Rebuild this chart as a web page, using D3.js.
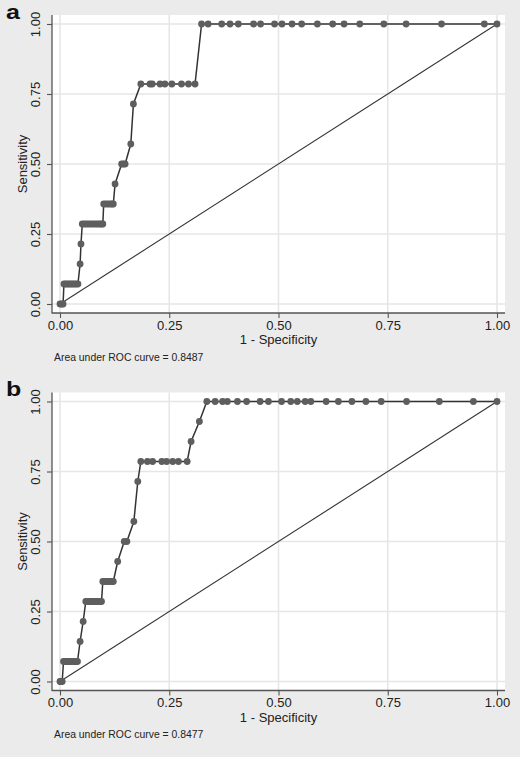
<!DOCTYPE html>
<html>
<head>
<meta charset="utf-8">
<script src="https://cdn.jsdelivr.net/npm/d3@7"></script>
<style>
  html, body { margin: 0; padding: 0; background: #ebebeb; }
  svg { display: block; font-family: "Liberation Sans", Arial, sans-serif; }
</style>
</head>
<body>
<svg id="chart" width="520" height="757"></svg>
<script>
// ---- data ----
const xTicks = [0, 0.25, 0.5, 0.75, 1];
const yTicks = [0, 0.25, 0.5, 0.75, 1];
const panelLabels = ["a", "b"];
const aucLabels = ["Area under ROC curve = 0.8487", "Area under ROC curve = 0.8477"];

// Panel a: 1 - specificity and sensitivity
const fprA = [0, 0.004, 0.007,
  0.009, 0.013, 0.017, 0.021, 0.025, 0.029, 0.033, 0.037, 0.041,
  0.046, 0.048,
  0.051, 0.056, 0.061, 0.066, 0.071, 0.076, 0.081, 0.086, 0.091, 0.095, 0.098,
  0.100, 0.105, 0.110, 0.115, 0.119, 0.122,
  0.126,
  0.141, 0.145, 0.149,
  0.162, 0.168,
  0.185, 0.206, 0.211, 0.229, 0.240, 0.256, 0.278, 0.294, 0.309,
  0.324, 0.339, 0.370, 0.389, 0.408, 0.443, 0.459, 0.491, 0.508, 0.531,
  0.553, 0.589, 0.624, 0.650, 0.686, 0.741, 0.792, 0.873, 0.971, 1.000];
const sensA = [0, 0, 0,
  0.0714, 0.0714, 0.0714, 0.0714, 0.0714, 0.0714, 0.0714, 0.0714, 0.0714,
  0.1429, 0.2143,
  0.2857, 0.2857, 0.2857, 0.2857, 0.2857, 0.2857, 0.2857, 0.2857, 0.2857, 0.2857, 0.2857,
  0.3571, 0.3571, 0.3571, 0.3571, 0.3571, 0.3571,
  0.4286,
  0.5, 0.5, 0.5,
  0.5714, 0.7143,
  0.7857, 0.7857, 0.7857, 0.7857, 0.7857, 0.7857, 0.7857, 0.7857, 0.7857,
  1, 1, 1, 1, 1, 1, 1, 1, 1, 1,
  1, 1, 1, 1, 1, 1, 1, 1, 1, 1];

// Panel b
const fprB = [0, 0.002, 0.005,
  0.008, 0.012, 0.016, 0.020, 0.024, 0.028, 0.032, 0.036, 0.040,
  0.046, 0.053,
  0.059, 0.063, 0.067, 0.071, 0.075, 0.079, 0.083, 0.087, 0.091, 0.095,
  0.098, 0.103, 0.108, 0.113, 0.118, 0.122,
  0.132,
  0.147, 0.153,
  0.169, 0.178,
  0.185, 0.200, 0.212, 0.233, 0.244, 0.258, 0.271, 0.291,
  0.300, 0.319,
  0.336, 0.355, 0.372, 0.383, 0.406, 0.427, 0.458, 0.477, 0.507, 0.528, 0.543,
  0.561, 0.574, 0.609, 0.637, 0.668, 0.700, 0.735, 0.793, 0.868, 0.946, 1.000];
const sensB = [0, 0, 0,
  0.0714, 0.0714, 0.0714, 0.0714, 0.0714, 0.0714, 0.0714, 0.0714, 0.0714,
  0.1429, 0.2143,
  0.2857, 0.2857, 0.2857, 0.2857, 0.2857, 0.2857, 0.2857, 0.2857, 0.2857, 0.2857,
  0.3571, 0.3571, 0.3571, 0.3571, 0.3571, 0.3571,
  0.4286,
  0.5, 0.5,
  0.5714, 0.7143,
  0.7857, 0.7857, 0.7857, 0.7857, 0.7857, 0.7857, 0.7857, 0.7857,
  0.8571, 0.9286,
  1, 1, 1, 1, 1, 1, 1, 1, 1, 1, 1,
  1, 1, 1, 1, 1, 1, 1, 1, 1, 1, 1];

const diagX = [0, 1];
const diagY = [0, 1];

// ---- drawing ----
const svg = d3.select("#chart");
svg.append("rect").attr("width", 520).attr("height", 757).attr("fill", "#ebebeb");

const x = d3.scaleLinear().domain([0, 1]).range([60, 497]);

function drawPanel(offset, fpr, sens, label, auc) {
  const g = svg.append("g").attr("transform", `translate(0,${offset})`);
  const y = d3.scaleLinear().domain([0, 1]).range([304, 24]);
  const left = 52, right = 505, top = 15, bottom = 313;

  g.append("rect").attr("x", left).attr("y", top)
    .attr("width", right - left).attr("height", bottom - top).attr("fill", "#ffffff");

  // gridlines
  g.selectAll(".gy").data(yTicks).join("line")
    .attr("x1", left).attr("x2", right)
    .attr("y1", d => y(d)).attr("y2", d => y(d))
    .attr("stroke", "#e6e6e6").attr("stroke-width", 1.6);
  g.selectAll(".gx").data(xTicks).join("line")
    .attr("y1", top).attr("y2", bottom)
    .attr("x1", d => x(d)).attr("x2", d => x(d))
    .attr("stroke", "#e6e6e6").attr("stroke-width", 1.6);

  // axes
  const ax = g.append("g").attr("transform", `translate(${left},0)`)
    .call(d3.axisLeft(y).tickValues(yTicks).tickFormat(d3.format(".2f")).tickSize(5).tickSizeOuter(0));
  ax.select(".domain").remove();
  ax.selectAll("line").attr("stroke", "#555").attr("stroke-width", 1.1);
  ax.selectAll("text")
    .attr("x", null).attr("dy", null)
    .attr("transform", "translate(-12,0) rotate(-90)")
    .attr("text-anchor", "middle")
    .attr("font-size", 13).attr("fill", "#222")
    .attr("font-family", "'Liberation Sans', Arial, sans-serif");

  const bx = g.append("g").attr("transform", `translate(0,${bottom})`)
    .call(d3.axisBottom(x).tickValues(xTicks).tickFormat(d3.format(".2f")).tickSize(5).tickSizeOuter(0));
  bx.select(".domain").remove();
  bx.selectAll("line").attr("stroke", "#555").attr("stroke-width", 1.1);
  bx.selectAll("text")
    .attr("y", 16.5).attr("dy", null)
    .attr("font-size", 13).attr("fill", "#222")
    .attr("font-family", "'Liberation Sans', Arial, sans-serif");

  g.append("line").attr("x1", left).attr("x2", left).attr("y1", top).attr("y2", bottom + 0.5)
    .attr("stroke", "#555").attr("stroke-width", 1.3);
  g.append("line").attr("x1", left).attr("x2", right).attr("y1", bottom).attr("y2", bottom)
    .attr("stroke", "#555").attr("stroke-width", 1.3);

  // diagonal reference line
  const diag = diagX.map((d, i) => [d, diagY[i]]);
  g.append("path").datum(diag)
    .attr("d", d3.line().x(d => x(d[0])).y(d => y(d[1])))
    .attr("fill", "none").attr("stroke", "#333").attr("stroke-width", 1.1);

  // ROC curve
  const pts = fpr.map((d, i) => [d, sens[i]]);
  g.append("path").datum(pts)
    .attr("d", d3.line().x(d => x(d[0])).y(d => y(d[1])))
    .attr("fill", "none").attr("stroke", "#333").attr("stroke-width", 1.5);
  g.selectAll(".pt").data(pts).join("circle")
    .attr("cx", d => x(d[0])).attr("cy", d => y(d[1])).attr("r", 3.4)
    .attr("fill", "#5e5e5e");

  // titles
  g.append("text").attr("transform", "translate(26.5,164) rotate(-90)")
    .attr("text-anchor", "middle").attr("font-size", 13).attr("fill", "#222")
    .text("Sensitivity");
  g.append("text").attr("x", (x(0) + x(1)) / 2).attr("y", 344)
    .attr("text-anchor", "middle").attr("font-size", 13).attr("fill", "#222")
    .text("1 - Specificity");
  g.append("text").attr("x", 54).attr("y", 360.5)
    .attr("font-size", 10.4).attr("fill", "#222")
    .text(auc);
  g.append("text").attr("transform", "translate(6,18.5) scale(1.25,1)")
    .attr("font-size", 20).attr("font-weight", "bold").attr("fill", "#111")
    .text(label);
}

drawPanel(0, fprA, sensA, panelLabels[0], aucLabels[0]);
drawPanel(377.5, fprB, sensB, panelLabels[1], aucLabels[1]);
</script>
</body>
</html>
